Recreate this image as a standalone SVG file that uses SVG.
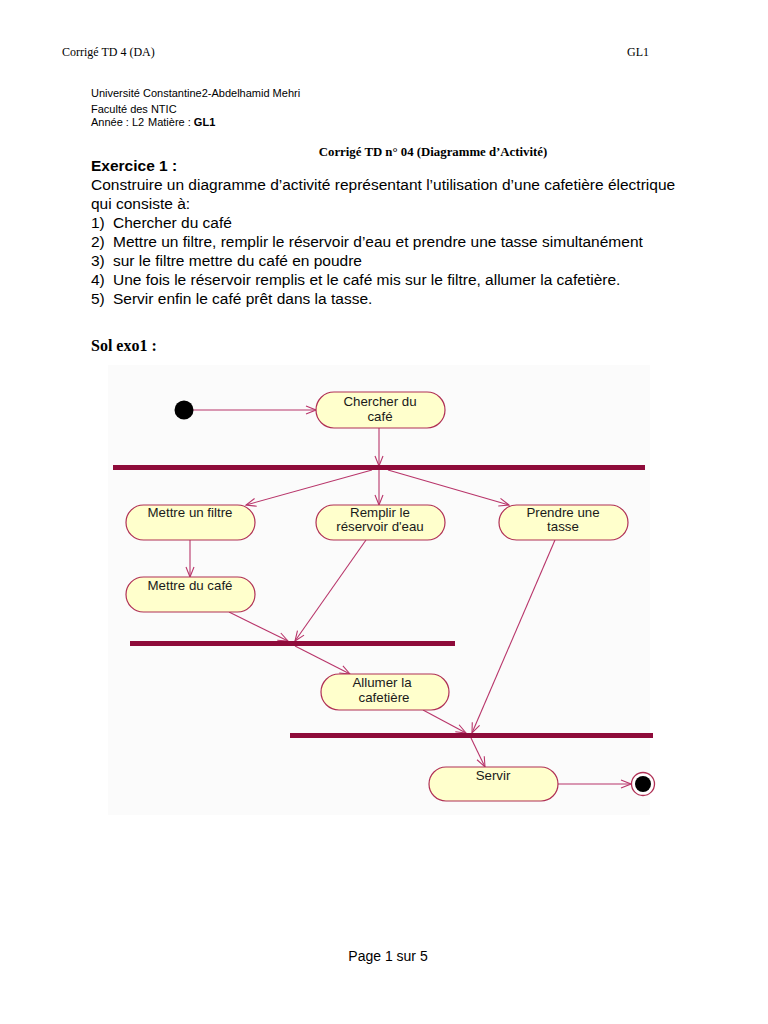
<svg xmlns="http://www.w3.org/2000/svg" width="768" height="1024" viewBox="0 0 768 1024">
<defs>
<style>
.serif{font-family:"Liberation Serif","Times New Roman",serif;fill:#000}
.sans{font-family:"Liberation Sans",Arial,sans-serif;fill:#000}
.body{font-family:"Liberation Sans",Arial,sans-serif;font-size:15.5px;fill:#000}
.act{fill:#ffffcc;stroke:#b03055;stroke-width:1.2}
.lbl{font-family:"Liberation Sans",Arial,sans-serif;font-size:13.3px;fill:#1a1a1a;text-anchor:middle}
.flow{stroke:#b8356a;stroke-width:1.1;fill:none}
.bar{fill:#8e0b3a}
</style>
<marker id="arr" markerUnits="userSpaceOnUse" markerWidth="12" markerHeight="10" refX="11" refY="5" orient="auto">
<path d="M1,1 L11,5 L1,9" fill="none" stroke="#b8356a" stroke-width="1.1"/>
</marker>
</defs>
<rect width="768" height="1024" fill="#ffffff"/>
<text class="serif" x="62" y="56" font-size="12">Corrigé TD 4 (DA)</text>
<text class="serif" x="627" y="56" font-size="12">GL1</text>
<text class="sans" x="91" y="97" font-size="11">Université Constantine2-Abdelhamid Mehri</text>
<text class="sans" x="91" y="113" font-size="11">Faculté des NTIC</text>
<text class="sans" x="91" y="126" font-size="11">Année : L2<tspan x="148">Matière : </tspan><tspan font-weight="bold">GL1</tspan></text>
<text class="serif" x="433" y="156" font-size="12.8" font-weight="bold" text-anchor="middle">Corrigé TD n° 04 (Diagramme d’Activité)</text>
<text class="body" x="91" y="171" font-weight="bold">Exercice 1 :</text>
<text class="body" x="91" y="190">Construire un diagramme d’activité représentant l’utilisation d’une cafetière électrique</text>
<text class="body" x="91" y="209">qui consiste à:</text>
<text class="body" x="91" y="228">1)<tspan x="113">Chercher du café</tspan></text>
<text class="body" x="91" y="247">2)<tspan x="113">Mettre un filtre, remplir le réservoir d’eau et prendre une tasse simultanément</tspan></text>
<text class="body" x="91" y="266">3)<tspan x="113">sur le filtre mettre du café en poudre</tspan></text>
<text class="body" x="91" y="285">4)<tspan x="113">Une fois le réservoir remplis et le café mis sur le filtre, allumer la cafetière.</tspan></text>
<text class="body" x="91" y="304">5)<tspan x="113">Servir enfin le café prêt dans la tasse.</tspan></text>
<text class="serif" x="91" y="351" font-size="16" font-weight="bold">Sol exo1 :</text>

<rect x="108" y="365" width="542" height="450" fill="#fbfbfb"/>

<g id="connectors">
<line class="flow" x1="193" y1="410" x2="316" y2="410" marker-end="url(#arr)"/>
<line class="flow" x1="379" y1="428" x2="379" y2="466" marker-end="url(#arr)"/>
<line class="flow" x1="372" y1="470" x2="246" y2="505" marker-end="url(#arr)"/>
<line class="flow" x1="379" y1="470" x2="379" y2="505" marker-end="url(#arr)"/>
<line class="flow" x1="388" y1="470" x2="509" y2="505" marker-end="url(#arr)"/>
<line class="flow" x1="190" y1="540" x2="190" y2="577" marker-end="url(#arr)"/>
<line class="flow" x1="366" y1="540" x2="295" y2="641" marker-end="url(#arr)"/>
<line class="flow" x1="229" y1="612" x2="288" y2="641" marker-end="url(#arr)"/>
<line class="flow" x1="295" y1="646" x2="350" y2="674" marker-end="url(#arr)"/>
<line class="flow" x1="555" y1="540" x2="472" y2="733" marker-end="url(#arr)"/>
<line class="flow" x1="423" y1="710" x2="466" y2="733" marker-end="url(#arr)"/>
<line class="flow" x1="471" y1="738" x2="485" y2="767" marker-end="url(#arr)"/>
<line class="flow" x1="558" y1="784" x2="631" y2="784" marker-end="url(#arr)"/>
</g>

<g id="start"><circle cx="184" cy="410" r="9.5" fill="#000"/></g>
<g id="fork1"><rect class="bar" x="113" y="465" width="532" height="5"/></g>
<g id="join1"><rect class="bar" x="130" y="641" width="325" height="5"/></g>
<g id="join2"><rect class="bar" x="290" y="733" width="363" height="5"/></g>

<g id="chercher"><rect class="act" x="316" y="392" width="129" height="36" rx="18"/>
<text class="lbl" x="380" y="406">Chercher du</text><text class="lbl" x="380" y="421">café</text></g>
<g id="filtre"><rect class="act" x="126" y="505" width="129" height="35" rx="17.5"/>
<text class="lbl" x="190" y="517">Mettre un filtre</text></g>
<g id="remplir"><rect class="act" x="316" y="505" width="129" height="35" rx="17.5"/>
<text class="lbl" x="380" y="517">Remplir le</text><text class="lbl" x="380" y="531">réservoir d'eau</text></g>
<g id="tasse"><rect class="act" x="499" y="505" width="129" height="35" rx="17.5"/>
<text class="lbl" x="563" y="517">Prendre une</text><text class="lbl" x="563" y="531">tasse</text></g>
<g id="cafe"><rect class="act" x="126" y="577" width="129" height="35" rx="17.5"/>
<text class="lbl" x="190" y="590">Mettre du café</text></g>
<g id="allumer"><rect class="act" x="321" y="674" width="128" height="36" rx="18"/>
<text class="lbl" x="382" y="687">Allumer la</text><text class="lbl" x="384" y="702">cafetière</text></g>
<g id="servir"><rect class="act" x="429" y="767" width="129" height="34" rx="17"/>
<text class="lbl" x="493" y="780">Servir</text></g>
<g id="end"><circle cx="643" cy="784" r="11.5" fill="#fff" stroke="#b03055" stroke-width="1.3"/>
<circle cx="643" cy="784" r="8" fill="#000"/></g>

<text class="sans" x="388" y="961" font-size="14" text-anchor="middle">Page 1 sur 5</text>
</svg>
